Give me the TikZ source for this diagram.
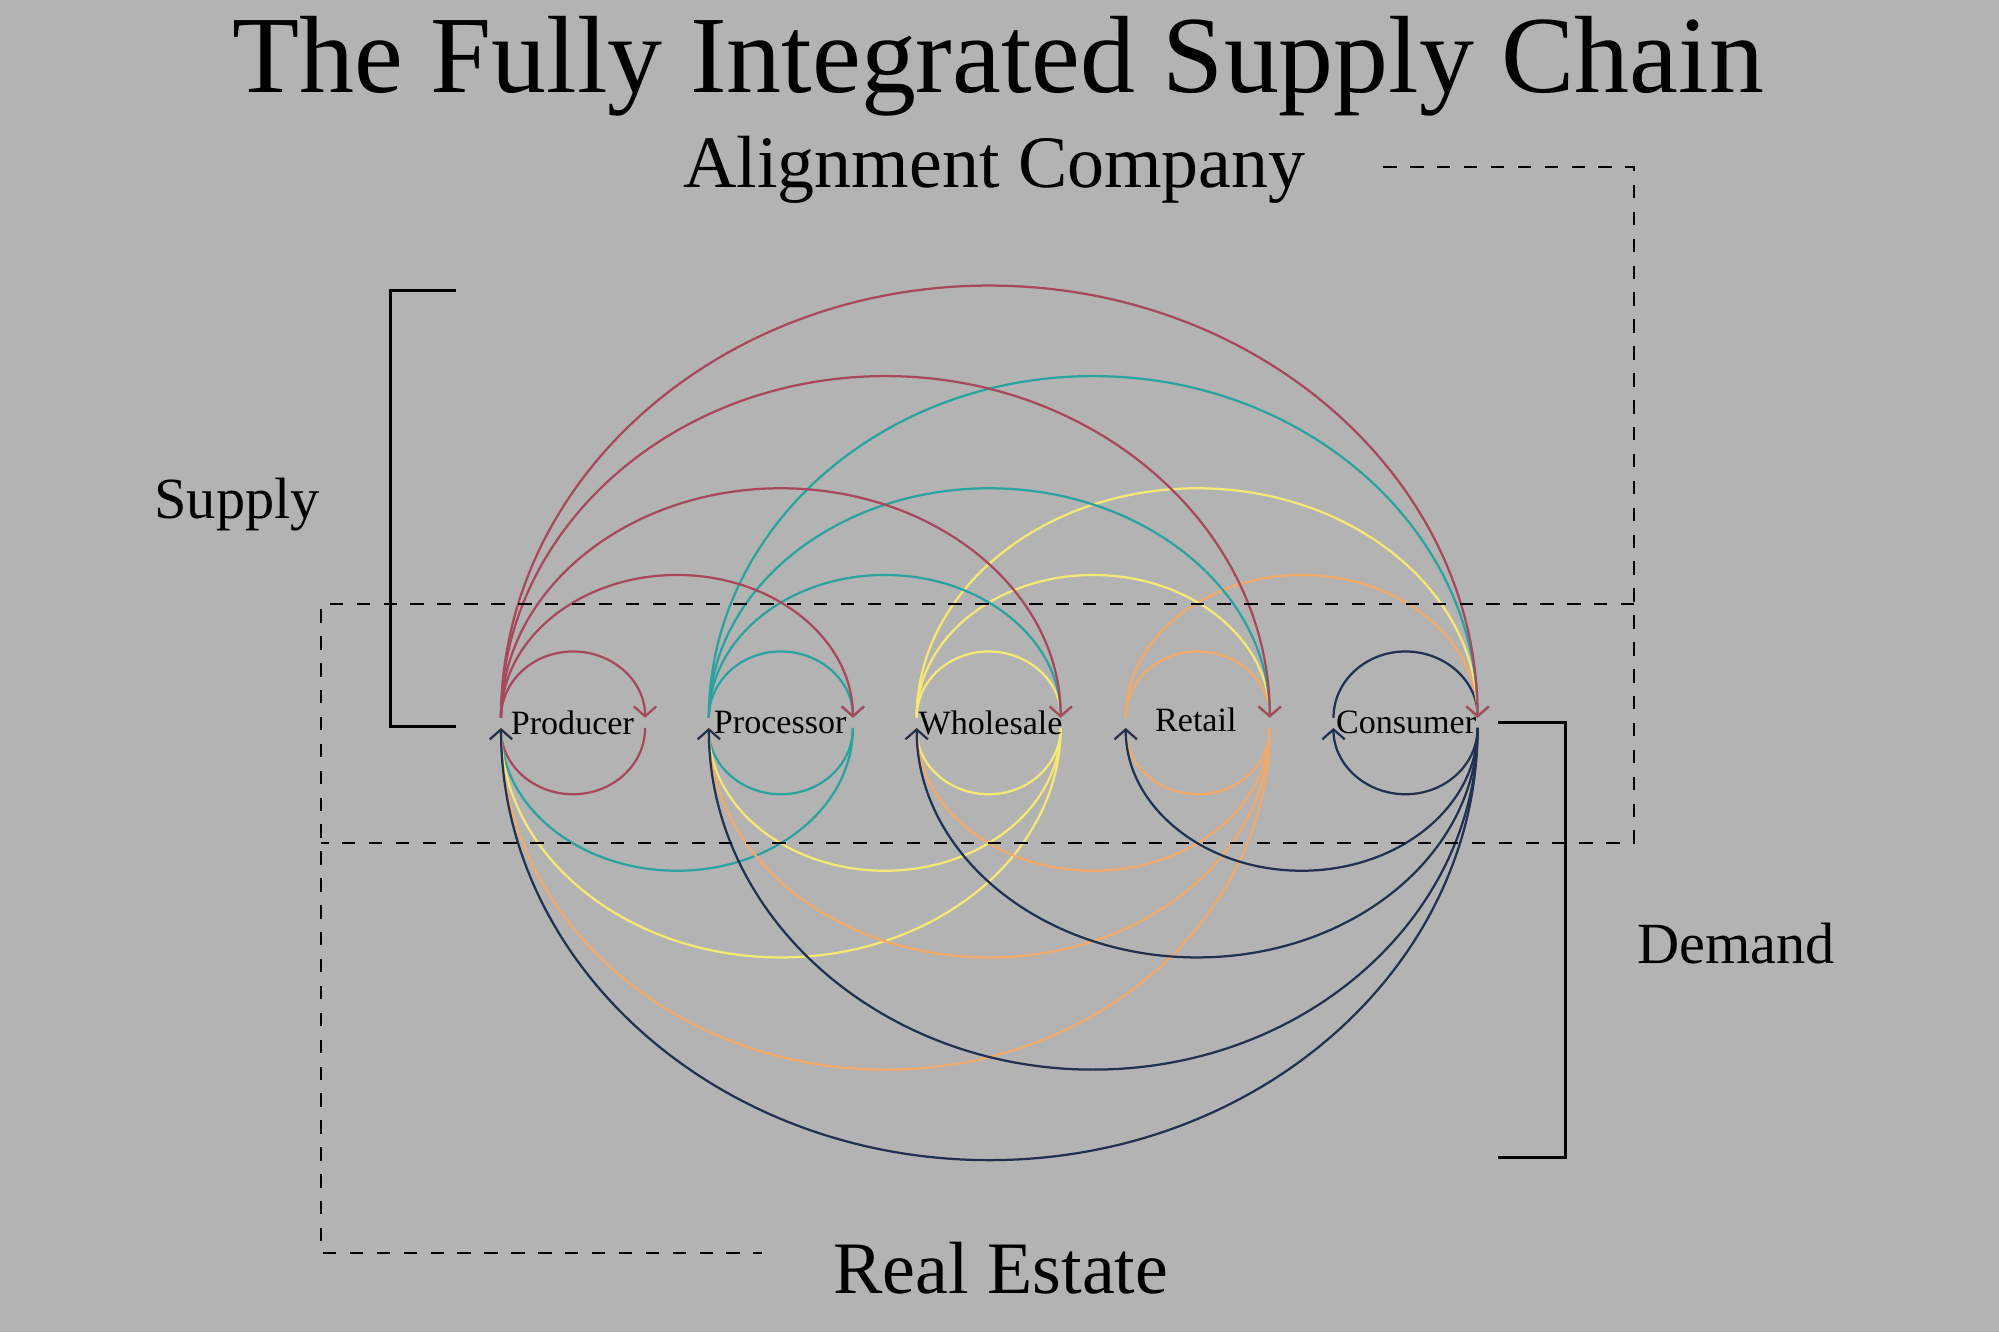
\documentclass[tikz,border=0pt]{standalone}
\usepackage{fontspec}
\setmainfont{Liberation Serif}
\usetikzlibrary{arrows.meta}
\definecolor{bg}{HTML}{B3B3B3}
\definecolor{cA}{HTML}{A8485C}
\definecolor{cB}{HTML}{2AA3A0}
\definecolor{cC}{HTML}{F7E874}
\definecolor{cD}{HTML}{F2AA6A}
\definecolor{cE}{HTML}{213152}
\tikzset{arcl/.style={line width=0.5pt,-{Straight Barb[length=2.2pt,width=5pt]}},
 dashline/.style={dashed,line width=0.4pt},
 brk/.style={line width=0.7pt},
 lab/.style={font=\fontsize{7.6}{9}\selectfont},
 big/.style={font=\fontsize{16.5}{19}\selectfont}}
\begin{document}
\begin{tikzpicture}[x=0.01cm,y=-0.01cm]
\fill[bg] (0,0) rectangle (1568,1045);
\useasboundingbox (0,0) rectangle (1568,1045);
\def\L{{393,556,719,883,1046}}
\def\R{{506,669,832,996,1159}}
\def\H{{52,112,180,268,339}}
\def\C{{"cA","cB","cC","cD","cE"}}
% upper arcs, red drawn last
\foreach \i in {4,3,2,1,0}{
  \foreach \j in {\i,...,4}{
    \pgfmathsetmacro\xa{\L[\i]}
    \pgfmathsetmacro\xb{\R[\j]}
    \pgfmathsetmacro\hw{(\xb-\xa)/2}
    \pgfmathsetmacro\hh{\H[\j-\i]}
    \pgfmathsetmacro\ci{\C[\i]}
    \coordinate (s\i\j) at (\xa,563);
    \draw[arcl,color=\ci] (s\i\j) arc[start angle=180,end angle=0,x radius=\hw,y radius=-\hh];
  }
}
% lower arcs, navy drawn last
\foreach \j in {0,...,4}{
  \foreach \i in {0,...,\j}{
    \pgfmathsetmacro\xa{\L[\i]}
    \pgfmathsetmacro\xb{\R[\j]}
    \pgfmathsetmacro\hw{(\xb-\xa)/2}
    \pgfmathsetmacro\hh{\H[\j-\i]}
    \pgfmathsetmacro\cj{\C[\j]}
    \coordinate (e\i\j) at (\xb,571);
    \draw[arcl,color=\cj] (e\i\j) arc[start angle=0,end angle=-180,x radius=\hw,y radius=-\hh];
  }
}
\node[lab] (p1) at (449,567) {Producer};
\node[lab] (p2) at (612,567) {Processor};
\node[lab] (p3) at (777,567) {Wholesale};
\node[lab] (p4) at (938,565) {Retail};
\node[lab] (p5) at (1103,567) {Consumer};
\node[font=\fontsize{24.5}{28}\selectfont] (t) at (783,52) {The Fully Integrated Supply Chain};
\node[big] (ac) at (780,133) {Alignment Company};
\node[big] (re) at (785,995) {Real Estate};
\node[font=\fontsize{13}{15}\selectfont] (su) at (186,396) {Supply};
\node[font=\fontsize{13}{15}\selectfont] (de) at (1362,740) {Demand};
\coordinate (a1) at (1085,131);
\draw[dashline] (a1) -- (1282,131) -- (1282,661) -- (252,661);
\draw[dashline] (1282,474) -- (252,474) -- (252,983) -- (598,983);
\draw[brk] (358,228) -- (306,228) -- (306,570) -- (358,570);
\draw[brk] (1175,567) -- (1228,567) -- (1228,908) -- (1175,908);
\end{tikzpicture}
\end{document}
